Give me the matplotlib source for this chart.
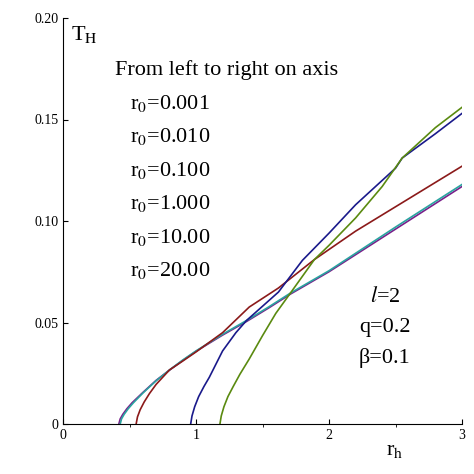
import matplotlib.pyplot as plt

plt.rcParams['font.family'] = ['Liberation Serif', 'DejaVu Serif']
plt.rcParams['mathtext.fontset'] = 'stix'

# 曲线点 (r_h, T_H)
x_purple = [0.42, 0.43, 0.45, 0.48, 0.52, 0.6, 0.7, 0.8, 0.9, 1.0, 1.2, 1.38, 1.55, 1.71, 2.0, 2.5, 3.0]
y_purple = [0.0, 0.0025, 0.0048, 0.0075, 0.0105, 0.0155, 0.0215, 0.0265, 0.0313, 0.0358, 0.0438, 0.0505, 0.0573, 0.064, 0.075, 0.096, 0.117]
x_cyan = [0.43, 0.44, 0.46, 0.49, 0.53, 0.6, 0.7, 0.8, 0.9, 1.0, 1.2, 1.38, 1.55, 1.71, 2.0, 2.5, 3.0]
y_cyan = [0.0, 0.0025, 0.0048, 0.0075, 0.0105, 0.0152, 0.0213, 0.0266, 0.0315, 0.036, 0.0442, 0.051, 0.0578, 0.0645, 0.0755, 0.097, 0.118]
x_red = [0.55, 0.56, 0.58, 0.61, 0.65, 0.7, 0.8, 0.9, 1.0, 1.2, 1.4, 1.62, 1.89, 2.2, 2.6, 3.0]
y_red = [0.0, 0.0035, 0.007, 0.0108, 0.015, 0.0195, 0.0266, 0.031, 0.0355, 0.045, 0.0576, 0.067, 0.081, 0.095, 0.111, 0.127]
x_blue = [0.96, 0.97, 0.99, 1.02, 1.06, 1.1, 1.2, 1.3, 1.38, 1.5, 1.62, 1.8, 2.0, 2.2, 2.5, 2.55, 2.8, 3.0]
y_blue = [0.0, 0.004, 0.0085, 0.0135, 0.0185, 0.023, 0.036, 0.045, 0.051, 0.058, 0.065, 0.0806, 0.094, 0.108, 0.126, 0.131, 0.143, 0.153]
x_green = [1.18, 1.19, 1.21, 1.24, 1.28, 1.33, 1.4, 1.5, 1.6, 1.71, 1.89, 2.0, 2.2, 2.4, 2.55, 2.8, 3.0]
y_green = [0.0, 0.004, 0.0085, 0.0135, 0.0185, 0.0245, 0.032, 0.0435, 0.0545, 0.0645, 0.081, 0.088, 0.1015, 0.117, 0.131, 0.146, 0.156]

fig = plt.figure(figsize=(4.74, 4.74), dpi=100)
ax = fig.add_axes([63/474, 50/474, 399/474, 406/474])

ax.plot(x_purple, y_purple, color='#7a1f8a', lw=1.2)
ax.plot(x_cyan, y_cyan, color='#2aa3a0', lw=1.2)
ax.plot(x_red, y_red, color='#8b1a1a', lw=1.2)
ax.plot(x_blue, y_blue, color='#1a1a8b', lw=1.2)
ax.plot(x_green, y_green, color='#5a8a10', lw=1.2)

ax.set_xlim(0, 3)
ax.set_ylim(0, 0.2)
ax.set_xticks([0, 1, 2, 3])
ax.set_yticks([0, 0.05, 0.10, 0.15, 0.20])
ax.set_yticklabels(['0', '0.05', '0.10', '0.15', '0.20'])
ax.set_xticks([0.5, 1.5, 2.5], minor=True)
ax.tick_params(direction='in', labelsize=10)
ax.spines['top'].set_visible(False)
ax.spines['right'].set_visible(False)

ax.text(0.02, 0.985, r'T$_\mathrm{H}$', transform=ax.transAxes, fontsize=16, va='top')
ax.text(2.43, -0.013, r'r$_\mathrm{h}$', fontsize=16, va='center')

ax.text(0.13, 0.86, 'From left to right on axis', transform=ax.transAxes, fontsize=16)
labels = ['0.001', '0.010', '0.100', '1.000', '10.00', '20.00']
for i, lab in enumerate(labels):
    ax.text(0.5, 0.158 - i * 0.0165, r'r$_0$=' + lab, fontsize=16, va='center')

ax.text(2.42, 0.0625, r'$\mathit{l}$=2', fontsize=16, ha='center', va='center')
ax.text(2.42, 0.0475, 'q=0.2', fontsize=16, ha='center', va='center')
ax.text(2.42, 0.0325, 'β=0.1', fontsize=16, ha='center', va='center')

plt.savefig('out.png', dpi=100)
